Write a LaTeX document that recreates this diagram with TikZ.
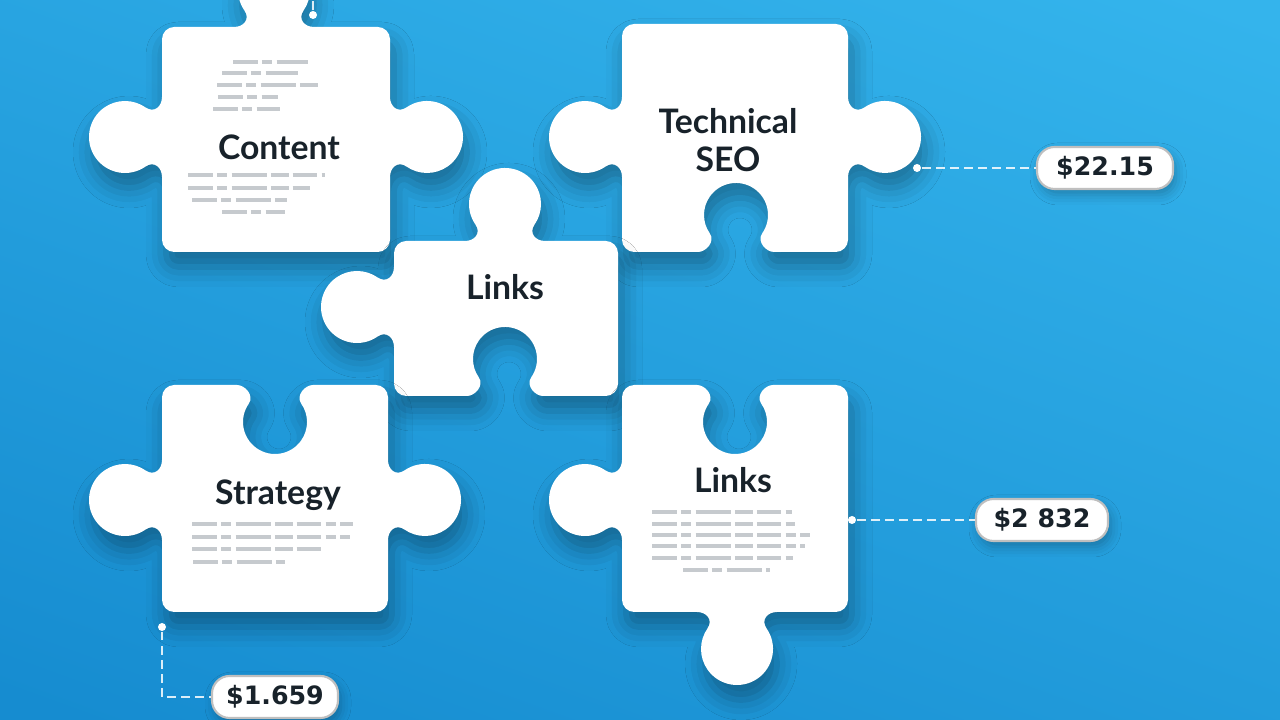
\documentclass[tikz,border=0pt]{standalone}
\usepackage{fontspec}
\newfontfamily\headfont{Lato}
\newfontfamily\pricefont{DejaVu Sans}
\usetikzlibrary{shadows.blur}

\definecolor{skytop}{RGB}{52,180,236}
\definecolor{skybot}{RGB}{22,140,208}
\definecolor{ink}{RGB}{24,34,42}
\definecolor{smudge}{RGB}{160,168,174}

\tikzstyle{piece}=[fill=white,
  blur shadow={shadow xshift=0.4mm, shadow yshift=-1.5mm, shadow blur radius=2mm, shadow opacity=34}]
\tikzstyle{title}=[font=\headfont\bfseries\fontsize{9.6}{10.6}\selectfont, text=ink, align=center]
\tikzstyle{filler}=[draw=smudge, line width=1pt, opacity=0.6,
  dash pattern=on 7pt off 1.2pt on 3pt off 1.2pt on 10pt off 1.2pt on 5pt off 1.2pt]
\tikzstyle{lead}=[draw=white, line width=0.6pt, dash pattern=on 2.5pt off 1.5pt, opacity=0.85]
\tikzstyle{dot}=[circle, fill=white, inner sep=0pt, minimum size=0.8mm]
\tikzstyle{tag}=[draw=black!25, fill=white, rounded corners=5pt, line width=0.6pt,
  minimum width=1.32cm, minimum height=0.42cm, inner sep=0pt,
  font=\pricefont\bfseries\fontsize{7.2}{8}\selectfont, text=ink,
  blur shadow={shadow xshift=0.3mm, shadow yshift=-0.6mm, shadow blur radius=1mm, shadow opacity=25}]

% knob sticking out of an edge, and a hole cut into one
% #1,#2 = middle of the edge, #3 = direction we walk along it
\newcommand{\tab}[3]{{[shift={(#1,#2)},rotate=#3]
  -- (-0.40,0) .. controls (-0.30,0) and (-0.238,0.082) .. (-0.295,0.1635)
  arc[start angle=215,end angle=-35,radius=0.36]
  .. controls (0.238,0.082) and (0.30,0) .. (0.40,0)}}
\newcommand{\slot}[3]{{[shift={(#1,#2)},rotate=#3]
  -- (-0.38,0) .. controls (-0.30,0) and (-0.205,-0.105) .. (-0.262,-0.1865)
  arc[start angle=145,end angle=395,radius=0.32]
  .. controls (0.205,-0.105) and (0.30,0) .. (0.38,0)}}
\newcommand{\corners}[1]{{[rounded corners=3.5pt] #1}}

\begin{document}
\begin{tikzpicture}
    \useasboundingbox (0,0) rectangle (12.8,7.2);
    \clip (0,0) rectangle (12.8,7.2);
    \shade[top color=skytop, bottom color=skybot, shading angle=-20] (-1,-1) rectangle (13.8,8.2);

    % the five pieces, walked round clockwise
    \path[piece] (1.62,6.4) \corners{-- (1.62,6.93) -- (2.2,6.93)} \tab{2.74}{6.93}{0}
        \corners{-- (3.90,6.93) -- (3.90,6.4)} \tab{3.90}{5.83}{-90}
        \corners{-- (3.90,4.68) -- (1.62,4.68) -- (1.62,5.2)} \tab{1.62}{5.83}{90} -- cycle;
    \path[piece] (6.22,6.4) \corners{-- (6.22,6.96) -- (8.48,6.96) -- (8.48,6.4)} \tab{8.48}{5.83}{-90}
        \corners{-- (8.48,4.68) -- (7.9,4.68)} \slot{7.36}{4.68}{180}
        \corners{-- (6.22,4.68) -- (6.22,5.2)} \tab{6.22}{5.83}{90} -- cycle;
    \path[piece] (3.94,4.6) \corners{-- (3.94,4.79) -- (4.5,4.79)} \tab{5.05}{4.79}{0}
        \corners{-- (6.18,4.79) -- (6.18,3.24) -- (5.6,3.24)} \slot{5.05}{3.24}{180}
        \corners{-- (3.94,3.24) -- (3.94,3.6)} \tab{3.94}{4.13}{90} -- cycle;
    \path[piece] (1.62,2.8) \corners{-- (1.62,3.35) -- (2.2,3.35)} \slot{2.75}{3.35}{0}
        \corners{-- (3.88,3.35) -- (3.88,2.8)} \tab{3.88}{2.20}{-90}
        \corners{-- (3.88,1.08) -- (1.62,1.08) -- (1.62,1.6)} \tab{1.62}{2.20}{90} -- cycle;
    \path[piece] (6.22,2.8) \corners{-- (6.22,3.35) -- (6.8,3.35)} \slot{7.35}{3.35}{0}
        \corners{-- (8.48,3.35) -- (8.48,1.08) -- (7.9,1.08)} \tab{7.37}{1.08}{180}
        \corners{-- (6.22,1.08) -- (6.22,1.6)} \tab{6.22}{2.20}{90} -- cycle;

    % blurred small print on the pieces
    \foreach \y/\xa/\xb in {6.58/2.33/3.08, 6.47/2.22/2.98, 6.35/2.17/3.20, 6.23/2.18/2.78, 6.11/2.13/2.80,
        5.45/1.88/3.25, 5.32/1.88/3.10, 5.20/1.92/2.87, 5.08/2.22/2.85,
        1.96/1.92/3.53, 1.83/1.92/3.50, 1.71/1.92/3.22, 1.58/1.93/2.85,
        2.08/6.52/7.92, 1.96/6.52/7.95, 1.85/6.52/8.10, 1.74/6.52/8.05, 1.62/6.52/7.93, 1.50/6.83/7.70}
        \draw[filler] (\xa,\y) -- (\xb,\y);

    \node[title] (content) at (2.79,5.73) {Content};
    \node[title] (techseo) at (7.28,5.80) {Technical\\SEO};
    \node[title] (midlinks) at (5.05,4.33) {Links};
    \node[title] (strategy) at (2.78,2.25) {Strategy};
    \node[title] (lowlinks) at (7.33,2.40) {Links};

    % price tags and their leads
    \node[tag, minimum width=1.36cm] (tagA) at (11.05,5.52) {\$22.15};
    \node[tag] (tagB) at (10.42,2.00) {\$2 832};
    \node[tag, minimum width=1.26cm] (tagC) at (2.75,0.23) {\$1.659};
    \node[dot] (techdot) at (9.17,5.52) {};
    \node[dot] (linksdot) at (8.52,2.00) {};
    \node[dot] (stratdot) at (1.62,0.93) {};
    \node[dot] (contentdot) at (3.13,7.05) {};
    \coordinate (topend) at (3.13,7.3);
    \draw[lead] (techdot) -- (tagA);
    \draw[lead] (linksdot) -- (tagB);
    \draw[lead] (stratdot) |- (tagC);
    \draw[lead] (contentdot) -- (topend);
\end{tikzpicture}
\end{document}
